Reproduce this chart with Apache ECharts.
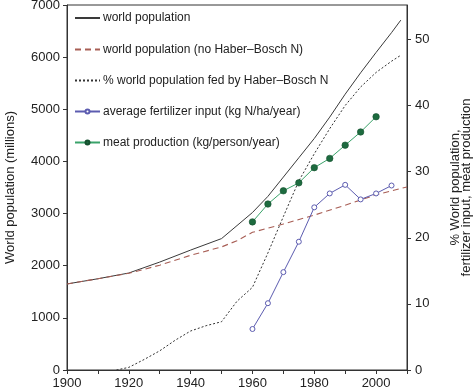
<!DOCTYPE html>
<html>
<head>
<meta charset="utf-8">
<script src="https://cdn.jsdelivr.net/npm/echarts@6/dist/echarts.min.js"></script>
<style>
html,body{margin:0;padding:0;background:#fff;}
#c{width:474px;height:391px;}
</style>
</head>
<body>
<div id="c"></div>
<script>
// ---- data ----
const popYears = [1900, 1910, 1920, 1930, 1940, 1950, 1955, 1960, 1965, 1970, 1975, 1980, 1985, 1990, 1995, 2000, 2005, 2008];
const popValues = [1650, 1750, 1860, 2070, 2300, 2520, 2770, 3020, 3330, 3700, 4070, 4440, 4850, 5290, 5700, 6090, 6470, 6710];

const noHBYears = [1900, 1910, 1920, 1930, 1940, 1950, 1955, 1960, 1965, 1970, 1980, 1990, 2000, 2010];
const noHBValues = [1650, 1750, 1855, 2010, 2200, 2360, 2480, 2640, 2720, 2800, 2970, 3160, 3360, 3510];

const fedYears = [1916, 1920, 1925, 1930, 1935, 1940, 1945, 1950, 1955, 1960, 1965, 1970, 1975, 1980, 1985, 1990, 1995, 2000, 2005, 2008];
const fedValues = [0, 0.4, 1.6, 2.9, 4.5, 5.9, 6.7, 7.3, 10.4, 12.5, 17.7, 23.2, 28.6, 32.7, 36.5, 40.0, 42.8, 45.0, 46.7, 47.6];

const fertYears = [1960, 1965, 1970, 1975, 1980, 1985, 1990, 1995, 2000, 2005];
const fertValues = [6.2, 10.1, 14.8, 19.4, 24.6, 26.7, 28.0, 25.8, 26.7, 27.9];

const meatYears = [1960, 1965, 1970, 1975, 1980, 1985, 1990, 1995, 2000];
const meatValues = [22.4, 25.1, 27.1, 28.3, 30.6, 32.0, 34.0, 36.0, 38.3];

const seriesNames = [
  'world population',
  'world population (no Haber\u2013Bosch N)',
  '% world population fed by Haber\u2013Bosch N',
  'average fertilizer input (kg N/ha/year)',
  'meat production (kg/person/year)'
];
const xLabelValues = [1900, 1920, 1940, 1960, 1980, 2000];
const xTickValues = [1900, 1910, 1920, 1930, 1940, 1950, 1960, 1970, 1980, 1990, 2000, 2010];
const leftTickValues = [0, 1000, 2000, 3000, 4000, 5000, 6000, 7000];
const rightTickValues = [0, 10, 20, 30, 40, 50];

const pairs = (xs, ys) => xs.map((x, i) => [x, ys[i]]);

const FONT = 'Liberation Sans, Arial, sans-serif';
const TXT = '#222';
const AX = '#333';
const plain = v => String(v);

const chart = echarts.init(document.getElementById('c'), null, {renderer: 'canvas'});

const legendTops = [18, 49.5, 80.5, 111.5, 142.5];
const hasMarker = [false, false, false, true, true];
const legends = seriesNames.map((n, i) => {
  const lg = {
    data: [n],
    orient: 'vertical',
    left: 74,
    top: legendTops[i] - 7,
    itemWidth: 25,
    itemHeight: 5,
    itemGap: 0,
    padding: 0,
    selectedMode: false,
    textStyle: {fontFamily: FONT, fontSize: 12, color: TXT, lineHeight: 14, padding: [0, 0, 0, -2]}
  };
  if (!hasMarker[i]) lg.itemStyle = {opacity: 0};
  return lg;
});

chart.setOption({
  animation: false,
  backgroundColor: '#fff',
  legend: legends,
  grid: {left: 67, right: 67, top: 5, bottom: 21, containLabel: false, outerBoundsMode: 'none',
         show: true, borderColor: AX, borderWidth: 1, backgroundColor: 'transparent'},
  xAxis: {
    type: 'value', min: 1900, max: 2010, interval: 10,
    splitLine: {show: false},
    axisLine: {show: true, lineStyle: {color: AX, width: 1}},
    axisTick: {show: true, length: 4, lineStyle: {color: AX}, customValues: xTickValues},
    axisLabel: {customValues: xLabelValues, formatter: plain, fontFamily: FONT, fontSize: 13, color: TXT, margin: 7}
  },
  yAxis: [
    {
      type: 'value', min: 0, max: 7000, interval: 1000,
      splitLine: {show: false},
      axisLine: {show: true, lineStyle: {color: AX, width: 1}},
      axisTick: {show: true, length: 4, lineStyle: {color: AX}, customValues: leftTickValues},
      axisLabel: {customValues: leftTickValues, formatter: plain, fontFamily: FONT, fontSize: 13, color: TXT, margin: 7},
      name: 'World population (millions)',
      nameLocation: 'middle', nameRotate: 90, nameGap: 50,
      nameTextStyle: {fontFamily: FONT, fontSize: 13, color: TXT}
    },
    {
      type: 'value', min: 0, max: 55.2, interval: 10, position: 'right',
      splitLine: {show: false},
      axisLine: {show: true, lineStyle: {color: AX, width: 1}},
      axisTick: {show: true, length: 4, lineStyle: {color: AX}, customValues: rightTickValues},
      axisLabel: {customValues: rightTickValues, formatter: plain, fontFamily: FONT, fontSize: 13, color: TXT, margin: 8},
      name: '% World population,\nfertilizer input, meat production',
      nameLocation: 'middle', nameRotate: 90, nameGap: 43,
      nameTextStyle: {fontFamily: FONT, fontSize: 13, color: TXT, lineHeight: 11}
    }
  ],
  series: [
    {
      name: seriesNames[0], type: 'line', yAxisIndex: 0, data: pairs(popYears, popValues),
      symbol: 'none', lineStyle: {color: '#3a3a3a', width: 1}, itemStyle: {color: '#3a3a3a'}
    },
    {
      name: seriesNames[1], type: 'line', yAxisIndex: 0, data: pairs(noHBYears, noHBValues),
      symbol: 'none', lineStyle: {color: '#a85e55', width: 1.1, type: [6, 4]}, itemStyle: {color: '#a85e55'}
    },
    {
      name: seriesNames[2], type: 'line', yAxisIndex: 1, data: pairs(fedYears, fedValues),
      symbol: 'none', lineStyle: {color: '#333', width: 1, type: [2, 2]}, itemStyle: {color: '#333'}
    },
    {
      name: seriesNames[3], type: 'line', yAxisIndex: 1, data: pairs(fertYears, fertValues),
      symbol: 'circle', symbolSize: 5, showAllSymbol: true,
      lineStyle: {color: '#5c5cb0', width: 1},
      itemStyle: {color: '#fff', borderColor: '#5c5cb0', borderWidth: 1}
    },
    {
      name: seriesNames[4], type: 'line', yAxisIndex: 1, data: pairs(meatYears, meatValues),
      symbol: 'circle', symbolSize: 6.5, showAllSymbol: true,
      lineStyle: {color: '#3aa36a', width: 1},
      itemStyle: {color: '#1d6b3f', borderColor: '#15502f', borderWidth: 0.6}
    }
  ]
});
</script>
</body>
</html>
